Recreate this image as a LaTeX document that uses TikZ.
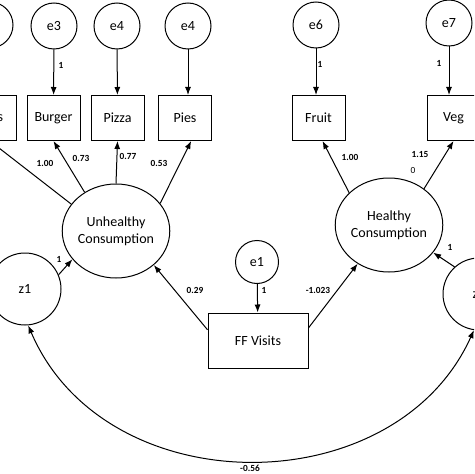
\documentclass[tikz,border=0pt]{standalone}
\usepackage{fontspec}
\setmainfont{Carlito}
\usetikzlibrary{calc,shapes.geometric,arrows.meta}

\begin{document}
\begin{tikzpicture}[x=0.75pt,y=0.75pt,yscale=-1,xscale=1,
    line width=0.75pt,
    txt/.style={font=\fontsize{10.5}{12.75}\selectfont},
    errc/.style={draw,circle,inner sep=0pt,minimum size=34.5pt,txt},
    distc/.style={draw,circle,inner sep=0pt,minimum size=54pt,txt},
    obsbox/.style={draw,rectangle,inner sep=0pt,minimum width=39.75pt,minimum height=33.75pt,txt},
    latent/.style={draw,ellipse,inner sep=0pt,minimum width=79.5pt,minimum height=70.5pt,align=center,txt},
    lbl/.style={font=\bfseries\fontsize{7}{8}\selectfont,inner sep=0pt},
    arr/.style={-{Latex[length=6pt,width=4.5pt]}},
    biarr/.style={{Latex[length=6pt,width=4.5pt]}-{Latex[length=6pt,width=4.5pt]}}
  ]
  \useasboundingbox (0,0) rectangle (474,474);
  \clip (0,0) rectangle (474,474);

  %Error circles
  \node[errc] (e2) at (-10,25) {};
  \node[errc] (e3) at (54,26) {e3};
  \node[errc] (e4a) at (117,26) {e4};
  \node[errc] (e4b) at (188,26) {e4};
  \node[errc] (e6) at (316,25) {e6};
  \node[errc] (e7) at (449,23) {e7};

  %Observed boxes
  \node[obsbox] (lbox) at (-10,118) {};
  \node[txt,inner sep=0pt,anchor=east] (lboxtxt) at (3.5,118.5) {s};
  \node[obsbox] (burger) at (53.5,118) {Burger};
  \node[obsbox] (pizza) at (117.5,118) {Pizza};
  \node[obsbox] (pies) at (185,118) {Pies};
  \node[obsbox] (fruit) at (318.5,118) {Fruit};
  \node[obsbox] (veg) at (453.5,118) {Veg};

  %Latent ellipses
  \node[latent] (unh) at (116,231) {Unhealthy\\Consumption};
  \node[latent] (hea) at (389,225) {Healthy\\Consumption};

  %Disturbances
  \node[distc] (z1) at (25,289) {z1};
  \node[distc] (z2) at (479,294) {z2};

  %FF visits
  \node[errc,minimum size=32.25pt] (e1) at (257,262) {e1};
  \node[obsbox,minimum width=75pt,minimum height=41.25pt] (ff) at (258,340.5) {FF Visits};

  %Error paths
  \draw[arr] (e2) -- (lbox);
  \draw[arr] (e3) -- (burger);
  \draw[arr] (e4a) -- (pizza);
  \draw[arr] (e4b) -- (pies.north -| e4b);
  \draw[arr] (e6) -- (fruit.north -| e6);
  \draw[arr] (e7) -- (veg.north -| e7);
  \draw[arr] (e1) -- (ff);
  \node[lbl] at (61,65) {1};
  \node[lbl] at (320,64) {1};
  \node[lbl] at (439,63) {1};
  \node[lbl] at (264,290) {1};

  %Loadings
  \draw[arr] (unh.149) -- (lbox.south);
  \draw[arr] (unh.129) -- (burger.south);
  \draw[arr] (unh.north) -- (pizza.south);
  \draw[arr] (unh.32) -- (pies.-75);
  \draw[arr] (hea.141) -- (fruit.-80);
  \draw[arr] (hea.46) -- (veg.south);
  \node[lbl] at (45,163) {1.00};
  \node[lbl] at (81,158) {0.73};
  \node[lbl] at (128,156) {0.77};
  \node[lbl] at (159,163) {0.53};
  \node[lbl] at (350,157) {1.00};
  \node[lbl] at (420,155) {1.15};
  \node[lbl,font=\fontsize{7}{8}\selectfont] at (413,171) {0};

  %Structural paths
  \draw[arr] (ff.168) -- (unh.318);
  \draw[arr] (ff.14) -- (hea.231);
  \draw[arr] (z1.23) -- (unh.213);
  \draw[arr] (z2.132) -- (hea.328);
  \node[lbl] at (195,290) {0.29};
  \node[lbl] at (318,290) {-1.023};
  \node[lbl] at (59,259) {1};
  \node[lbl] at (450,247) {1};

  %Covariance
  \draw[biarr] (z1.275) .. controls (105,505) and (395,505) .. (z2.262);
  \node[lbl] at (250,468) {-0.56};
\end{tikzpicture}
\end{document}
